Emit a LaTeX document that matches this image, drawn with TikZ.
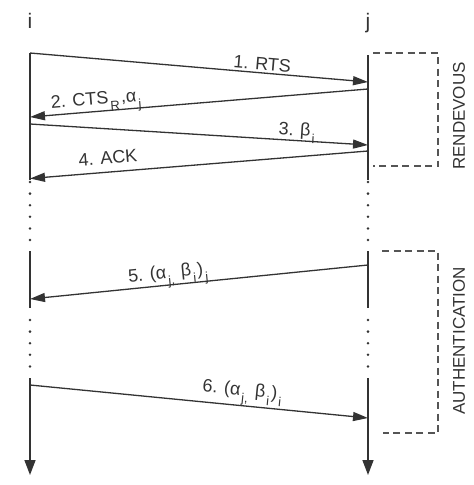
\documentclass[tikz,border=0pt]{standalone}
\usepackage{fontspec}
\setmainfont{Liberation Sans}
\usetikzlibrary{arrows.meta}
\definecolor{ink}{HTML}{333333}
\definecolor{dashink}{HTML}{555555}
\newcommand\sbs[1]{\kern1.6pt\raisebox{-7pt}{\fontsize{13}{13}\selectfont #1}\kern1.6pt}
\begin{document}
\begin{tikzpicture}[x=1pt,y=-1pt,
  life/.style={draw=ink, line width=1.5pt},
  lifeend/.style={draw=ink, line width=1.5pt, -{Triangle[length=15pt,width=11pt]}},
  dots/.style={draw=ink, line width=2.8pt, line cap=round, dash pattern=on 0pt off 11.6pt},
  msg/.style={draw=ink, line width=1.3pt, -{Triangle[length=15pt,width=9pt]}},
  lbl/.style={sloped, anchor=base, inner sep=0pt, font=\fontsize{18}{20}\selectfont, text=ink},
  head/.style={anchor=base, inner sep=0pt, font=\fontsize{21}{23}\selectfont, text=ink},
  phase/.style={draw=dashink, line width=1.1pt, dash pattern=on 7pt off 4.5pt},
  phaselbl/.style={rotate=90, inner sep=0pt, font=\fontsize{17}{20}\selectfont, text=ink}]
\useasboundingbox (0,0) rectangle (474,485);

% lifeline heads
\node[head] (i) at (30,28) {i};
\node[head] (j) at (368,28) {j};

% lifeline points
\coordinate (iA) at (30,53);   \coordinate (iB) at (30,180);
\coordinate (iC) at (30,182);  \coordinate (iD) at (30,241);
\coordinate (iE) at (30,251);  \coordinate (iF) at (30,308);
\coordinate (iG) at (30,320);  \coordinate (iH) at (30,368);
\coordinate (iI) at (30,378);  \coordinate (iJ) at (30,475);
\coordinate (jA) at (368,55);  \coordinate (jB) at (368,180);
\coordinate (jC) at (368,182); \coordinate (jD) at (368,241);
\coordinate (jE) at (368,251); \coordinate (jF) at (368,308);
\coordinate (jG) at (368,320); \coordinate (jH) at (368,368);
\coordinate (jI) at (368,378); \coordinate (jJ) at (368,475);

\draw[life] (iA) -- (iB);
\draw[dots] (iC) -- (iD);
\draw[life] (iE) -- (iF);
\draw[dots] (iG) -- (iH);
\draw[lifeend] (iI) -- (iJ);
\draw[life] (jA) -- (jB);
\draw[dots] (jC) -- (jD);
\draw[life] (jE) -- (jF);
\draw[dots] (jG) -- (jH);
\draw[lifeend] (jI) -- (jJ);

% message end points
\coordinate (s1) at (30,53);   \coordinate (t1) at (368,82);
\coordinate (s2) at (368,89);  \coordinate (t2) at (30,117);
\coordinate (s3) at (30,124);  \coordinate (t3) at (368,145);
\coordinate (s4) at (368,151); \coordinate (t4) at (30,178.5);
\coordinate (s5) at (368,265); \coordinate (t5) at (30,299);
\coordinate (s6) at (30,385);  \coordinate (t6) at (368,418);

\draw[msg] (s1) -- node[lbl, pos=0.685, yshift=2.5pt] (l1) {1. RTS} (t1);
\draw[msg] (s2) -- node[lbl, pos=0.80, yshift=6.5pt] (l2) {2. CTS\sbs{R},α\sbs{j}} (t2);
\draw[msg] (s3) -- node[lbl, pos=0.79, yshift=5pt] (l3) {3. β\sbs{i}} (t3);
\draw[msg] (s4) -- node[lbl, pos=0.766, yshift=8pt] (l4) {4. ACK} (t4);
\draw[msg] (s5) -- node[lbl, pos=0.586, yshift=7pt] (l5) {5. (α\sbs{j,}\hspace{5pt}β\sbs{i})\sbs{j}} (t5);
\draw[msg] (s6) -- node[lbl, pos=0.626, yshift=10pt] (l6) {6. (α\sbs{j,}\hspace{5pt}β\sbs{i})\sbs{i}} (t6);

% phase brackets
\coordinate (r1) at (373,53);  \coordinate (r2) at (438,53);
\coordinate (r3) at (438,166); \coordinate (r4) at (373,166);
\draw[phase] (r1) -- (r2) -- (r3) -- (r4);
\coordinate (a1) at (382,251); \coordinate (a2) at (438,251);
\coordinate (a3) at (438,433); \coordinate (a4) at (383,433);
\draw[phase] (a1) -- (a2) -- (a3) -- (a4);

\node[phaselbl] (rdv) at (459,116) {RENDEVOUS};
\node[phaselbl] (auth) at (459,341) {AUTHENTICATION};
\end{tikzpicture}
\end{document}
